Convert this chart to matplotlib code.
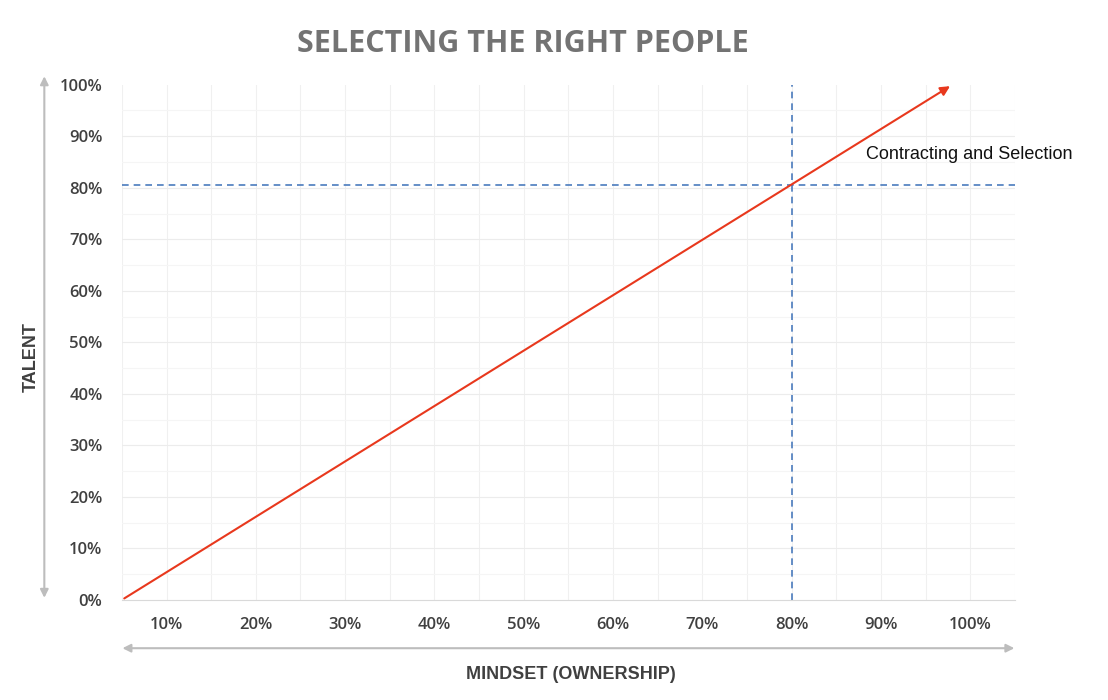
import matplotlib
matplotlib.use("Agg")
import matplotlib.pyplot as plt
import numpy as np

x_labels = ["10%","20%","30%","40%","50%","60%","70%","80%","90%","100%"]
y_ticks = [0,10,20,30,40,50,60,70,80,90,100]
line_x = [0.5, 9.8]
line_y = [0, 100]
vline_x = 8
hline_y = 80.6

fig = plt.figure(figsize=(11.08,7), dpi=100)
ax = fig.add_axes([0.110, 0.143, 0.806, 0.736])
ax.set_xlim(0.5, 10.5)
ax.set_ylim(0, 100)
ax.set_xticks(range(1, 11))
ax.set_xticklabels(x_labels)
ax.set_yticks(y_ticks)
ax.set_yticklabels([f"{v}%" for v in y_ticks])
for v in np.arange(0.5, 10.6, 0.5):
    ax.axvline(v, color="#f0f0f0", lw=0.8, zorder=0)
for v in np.arange(5, 100, 5):
    ax.axhline(v, color="#ececec" if v % 10 == 0 else "#f5f5f5", lw=0.8, zorder=0)
for s in ["top","right","left"]:
    ax.spines[s].set_visible(False)
ax.spines["bottom"].set_color("#d9d9d9")
ax.tick_params(length=0, labelsize=12, colors="#404040", pad=12)
for t in ax.get_xticklabels()+ax.get_yticklabels():
    t.set_fontweight("semibold"); t.set_family("Open Sans")
ax.tick_params(axis="y", pad=14)

ax.annotate("", xy=(line_x[1], line_y[1]), xytext=(line_x[0], line_y[0]),
            arrowprops=dict(arrowstyle="-|>", color="#e8381d", lw=1.5, mutation_scale=14))
ax.axvline(vline_x, color="#4a7bbd", lw=1.2, ls=(0,(4,3)))
ax.axhline(hline_y, color="#4a7bbd", lw=1.2, ls=(0,(4,3)))
ax.text(8.83, 85.5, "Contracting and Selection", fontsize=13, family="Liberation Sans", color="#111", clip_on=False)

fig.text(0.472, 0.937, "SELECTING THE RIGHT PEOPLE", ha="center", va="center",
         fontsize=22, fontweight="bold", color="#737373", family="Open Sans")
fig.text(0.028, 0.49, "TALENT", rotation=90, ha="center", va="center",
         fontsize=13, fontweight="bold", color="#404040", family="Liberation Sans")
fig.text(0.515, 0.036, "MINDSET (OWNERSHIP)", ha="center", va="center",
         fontsize=13, fontweight="bold", color="#404040", family="Liberation Sans")
fig.patches.append(matplotlib.patches.FancyArrowPatch((0.040, 0.142), (0.040, 0.895),
    transform=fig.transFigure, arrowstyle="<|-|>", mutation_scale=12, color="#bdbdbd", lw=1.5))
fig.patches.append(matplotlib.patches.FancyArrowPatch((0.108, 0.074), (0.918, 0.074),
    transform=fig.transFigure, arrowstyle="<|-|>", mutation_scale=12, color="#bdbdbd", lw=1.5))
fig.savefig("out.png")
